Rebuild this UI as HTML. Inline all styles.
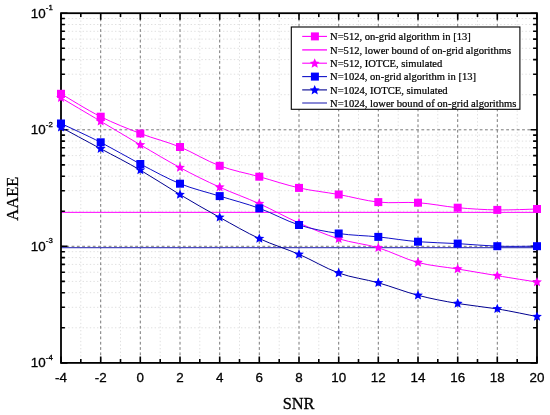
<!DOCTYPE html>
<html><head><meta charset="utf-8"><title>AAEE vs SNR</title>
<style>html,body{margin:0;padding:0;background:#fff}svg{display:block}text{font-family:"Liberation Sans",sans-serif;fill:#000;stroke:#000;stroke-width:.3px}.s{font-family:"Liberation Serif",serif}.l{stroke-width:.22px}</style></head><body>
<svg width="550" height="415" viewBox="0 0 550 415">
<rect width="550" height="415" fill="#fff"/>
<path d="M80.8 13.2V362.9M120.5 13.2V362.9M160.2 13.2V362.9M199.8 13.2V362.9M239.5 13.2V362.9M279.2 13.2V362.9M318.8 13.2V362.9M358.5 13.2V362.9M398.2 13.2V362.9M437.8 13.2V362.9M477.5 13.2V362.9M517.2 13.2V362.9M61.0 94.7H537.0M61.0 74.2H537.0M61.0 59.6H537.0M61.0 48.3H537.0M61.0 39.1H537.0M61.0 31.3H537.0M61.0 24.5H537.0M61.0 18.5H537.0M61.0 211.2H537.0M61.0 190.7H537.0M61.0 176.2H537.0M61.0 164.9H537.0M61.0 155.6H537.0M61.0 147.8H537.0M61.0 141.1H537.0M61.0 135.1H537.0M61.0 327.8H537.0M61.0 307.3H537.0M61.0 292.7H537.0M61.0 281.4H537.0M61.0 272.2H537.0M61.0 264.4H537.0M61.0 257.6H537.0M61.0 251.7H537.0" stroke="#e0e0e0" stroke-width="1" stroke-dasharray="1.4 2.2" fill="none"/>
<path d="M100.7 13.2V362.9M140.3 13.2V362.9M180.0 13.2V362.9M219.7 13.2V362.9M259.3 13.2V362.9M299.0 13.2V362.9M338.7 13.2V362.9M378.3 13.2V362.9M418.0 13.2V362.9M457.7 13.2V362.9M497.3 13.2V362.9M61.0 129.8H537.0M61.0 246.3H537.0" stroke="#787878" stroke-width="1" stroke-dasharray="2.8 2.5" fill="none"/>
<path d="M61.0 212.35H537.0" stroke="#ff00ff" stroke-width="1"/>
<path d="M61.0 247.6H537.0" stroke="#4a4ac0" stroke-width="1.1"/>
<rect x="61.0" y="13.2" width="476.0" height="349.7" fill="none" stroke="#000" stroke-width="1.8"/>
<path d="M61.0 362.9v-6.5M61.0 13.2v6.5M80.8 362.9v-3.8M80.8 13.2v3.8M100.7 362.9v-6.5M100.7 13.2v6.5M120.5 362.9v-3.8M120.5 13.2v3.8M140.3 362.9v-6.5M140.3 13.2v6.5M160.2 362.9v-3.8M160.2 13.2v3.8M180.0 362.9v-6.5M180.0 13.2v6.5M199.8 362.9v-3.8M199.8 13.2v3.8M219.7 362.9v-6.5M219.7 13.2v6.5M239.5 362.9v-3.8M239.5 13.2v3.8M259.3 362.9v-6.5M259.3 13.2v6.5M279.2 362.9v-3.8M279.2 13.2v3.8M299.0 362.9v-6.5M299.0 13.2v6.5M318.8 362.9v-3.8M318.8 13.2v3.8M338.7 362.9v-6.5M338.7 13.2v6.5M358.5 362.9v-3.8M358.5 13.2v3.8M378.3 362.9v-6.5M378.3 13.2v6.5M398.2 362.9v-3.8M398.2 13.2v3.8M418.0 362.9v-6.5M418.0 13.2v6.5M437.8 362.9v-3.8M437.8 13.2v3.8M457.7 362.9v-6.5M457.7 13.2v6.5M477.5 362.9v-3.8M477.5 13.2v3.8M497.3 362.9v-6.5M497.3 13.2v6.5M517.2 362.9v-3.8M517.2 13.2v3.8M537.0 362.9v-6.5M537.0 13.2v6.5M61.0 13.2h6.5M537.0 13.2h-6.5M61.0 129.8h6.5M537.0 129.8h-6.5M61.0 94.7h3.9M537.0 94.7h-3.9M61.0 74.2h3.9M537.0 74.2h-3.9M61.0 59.6h3.9M537.0 59.6h-3.9M61.0 48.3h3.9M537.0 48.3h-3.9M61.0 39.1h3.9M537.0 39.1h-3.9M61.0 31.3h3.9M537.0 31.3h-3.9M61.0 24.5h3.9M537.0 24.5h-3.9M61.0 18.5h3.9M537.0 18.5h-3.9M61.0 246.3h6.5M537.0 246.3h-6.5M61.0 211.2h3.9M537.0 211.2h-3.9M61.0 190.7h3.9M537.0 190.7h-3.9M61.0 176.2h3.9M537.0 176.2h-3.9M61.0 164.9h3.9M537.0 164.9h-3.9M61.0 155.6h3.9M537.0 155.6h-3.9M61.0 147.8h3.9M537.0 147.8h-3.9M61.0 141.1h3.9M537.0 141.1h-3.9M61.0 135.1h3.9M537.0 135.1h-3.9M61.0 362.9h6.5M537.0 362.9h-6.5M61.0 327.8h3.9M537.0 327.8h-3.9M61.0 307.3h3.9M537.0 307.3h-3.9M61.0 292.7h3.9M537.0 292.7h-3.9M61.0 281.4h3.9M537.0 281.4h-3.9M61.0 272.2h3.9M537.0 272.2h-3.9M61.0 264.4h3.9M537.0 264.4h-3.9M61.0 257.6h3.9M537.0 257.6h-3.9M61.0 251.7h3.9M537.0 251.7h-3.9" stroke="#000" stroke-width="1.6" fill="none"/>
<path d="M61.0 93.8C67.6 97.6 87.4 110.1 100.7 116.7C113.9 123.3 127.1 128.4 140.3 133.5C153.6 138.6 166.8 141.6 180.0 147.0C193.2 152.4 206.4 160.9 219.7 165.8C232.9 170.8 246.1 173.0 259.3 176.7C272.6 180.4 285.8 184.9 299.0 187.9C312.2 190.9 325.4 192.1 338.7 194.5C351.9 196.9 365.1 200.7 378.3 202.1C391.6 203.5 404.8 201.8 418.0 202.7C431.2 203.6 444.4 206.5 457.7 207.7C470.9 208.9 484.1 209.7 497.3 209.9C510.6 210.1 530.4 209.2 537.0 209.0" stroke="#ff00ff" stroke-width="1" fill="none"/>
<rect x="57.0" y="89.8" width="8" height="8" fill="#ff00ff"/>
<rect x="96.7" y="112.7" width="8" height="8" fill="#ff00ff"/>
<rect x="136.3" y="129.5" width="8" height="8" fill="#ff00ff"/>
<rect x="176.0" y="143.0" width="8" height="8" fill="#ff00ff"/>
<rect x="215.7" y="161.8" width="8" height="8" fill="#ff00ff"/>
<rect x="255.3" y="172.7" width="8" height="8" fill="#ff00ff"/>
<rect x="295.0" y="183.9" width="8" height="8" fill="#ff00ff"/>
<rect x="334.7" y="190.5" width="8" height="8" fill="#ff00ff"/>
<rect x="374.3" y="198.1" width="8" height="8" fill="#ff00ff"/>
<rect x="414.0" y="198.7" width="8" height="8" fill="#ff00ff"/>
<rect x="453.7" y="203.7" width="8" height="8" fill="#ff00ff"/>
<rect x="493.3" y="205.9" width="8" height="8" fill="#ff00ff"/>
<rect x="533.0" y="205.0" width="8" height="8" fill="#ff00ff"/>
<path d="M61.0 97.8C67.6 101.7 87.4 113.5 100.7 121.3C113.9 129.1 127.1 137.1 140.3 144.8C153.6 152.5 166.8 160.5 180.0 167.6C193.2 174.7 206.4 181.2 219.7 187.2C232.9 193.2 246.1 197.7 259.3 203.7C272.6 209.7 285.8 217.2 299.0 223.0C312.2 228.8 325.4 234.7 338.7 238.8C351.9 242.9 365.1 243.9 378.3 247.8C391.6 251.8 404.8 259.0 418.0 262.5C431.2 266.0 444.4 266.8 457.7 269.0C470.9 271.2 484.1 273.5 497.3 275.7C510.6 277.9 530.4 281.0 537.0 282.1" stroke="#ff00ff" stroke-width="1" fill="none"/>
<polygon points="61.0,92.6 62.4,95.9 65.9,96.2 63.3,98.5 64.1,102.0 61.0,100.2 57.9,102.0 58.7,98.5 56.1,96.2 59.6,95.9" fill="#ff00ff"/>
<polygon points="100.7,116.1 102.1,119.4 105.6,119.7 102.9,122.0 103.7,125.5 100.7,123.7 97.6,125.5 98.4,122.0 95.7,119.7 99.3,119.4" fill="#ff00ff"/>
<polygon points="140.3,139.6 141.7,142.9 145.3,143.2 142.6,145.5 143.4,149.0 140.3,147.2 137.3,149.0 138.1,145.5 135.4,143.2 138.9,142.9" fill="#ff00ff"/>
<polygon points="180.0,162.4 181.4,165.7 184.9,166.0 182.3,168.3 183.1,171.8 180.0,170.0 176.9,171.8 177.7,168.3 175.1,166.0 178.6,165.7" fill="#ff00ff"/>
<polygon points="219.7,182.0 221.1,185.3 224.6,185.6 221.9,187.9 222.7,191.4 219.7,189.6 216.6,191.4 217.4,187.9 214.7,185.6 218.3,185.3" fill="#ff00ff"/>
<polygon points="259.3,198.5 260.7,201.8 264.3,202.1 261.6,204.4 262.4,207.9 259.3,206.1 256.3,207.9 257.1,204.4 254.4,202.1 257.9,201.8" fill="#ff00ff"/>
<polygon points="299.0,217.8 300.4,221.1 303.9,221.4 301.3,223.7 302.1,227.2 299.0,225.4 295.9,227.2 296.7,223.7 294.1,221.4 297.6,221.1" fill="#ff00ff"/>
<polygon points="338.7,233.6 340.1,236.9 343.6,237.2 340.9,239.5 341.7,243.0 338.7,241.2 335.6,243.0 336.4,239.5 333.7,237.2 337.3,236.9" fill="#ff00ff"/>
<polygon points="378.3,242.6 379.7,245.9 383.3,246.2 380.6,248.5 381.4,252.0 378.3,250.2 375.3,252.0 376.1,248.5 373.4,246.2 376.9,245.9" fill="#ff00ff"/>
<polygon points="418.0,257.3 419.4,260.6 422.9,260.9 420.3,263.2 421.1,266.7 418.0,264.9 414.9,266.7 415.7,263.2 413.1,260.9 416.6,260.6" fill="#ff00ff"/>
<polygon points="457.7,263.8 459.1,267.1 462.6,267.4 459.9,269.7 460.7,273.2 457.7,271.4 454.6,273.2 455.4,269.7 452.7,267.4 456.3,267.1" fill="#ff00ff"/>
<polygon points="497.3,270.5 498.7,273.8 502.3,274.1 499.6,276.4 500.4,279.9 497.3,278.1 494.3,279.9 495.1,276.4 492.4,274.1 495.9,273.8" fill="#ff00ff"/>
<polygon points="537.0,276.9 538.4,280.2 541.9,280.5 539.3,282.8 540.1,286.3 537.0,284.5 533.9,286.3 534.7,282.8 532.1,280.5 535.6,280.2" fill="#ff00ff"/>
<path d="M61.0 123.5C67.6 126.6 87.4 135.6 100.7 142.3C113.9 149.1 127.1 157.1 140.3 164.0C153.6 170.9 166.8 178.3 180.0 183.7C193.2 189.0 206.4 192.0 219.7 196.1C232.9 200.2 246.1 203.5 259.3 208.3C272.6 213.1 285.8 220.8 299.0 225.0C312.2 229.2 325.4 231.5 338.7 233.5C351.9 235.5 365.1 235.5 378.3 236.9C391.6 238.3 404.8 240.6 418.0 241.7C431.2 242.8 444.4 242.8 457.7 243.6C470.9 244.3 484.1 245.8 497.3 246.2C510.6 246.6 530.4 246.2 537.0 246.2" stroke="#1010c8" stroke-width="1" fill="none"/>
<rect x="57.0" y="119.5" width="8" height="8" fill="#0000ff"/>
<rect x="96.7" y="138.3" width="8" height="8" fill="#0000ff"/>
<rect x="136.3" y="160.0" width="8" height="8" fill="#0000ff"/>
<rect x="176.0" y="179.7" width="8" height="8" fill="#0000ff"/>
<rect x="215.7" y="192.1" width="8" height="8" fill="#0000ff"/>
<rect x="255.3" y="204.3" width="8" height="8" fill="#0000ff"/>
<rect x="295.0" y="221.0" width="8" height="8" fill="#0000ff"/>
<rect x="334.7" y="229.5" width="8" height="8" fill="#0000ff"/>
<rect x="374.3" y="232.9" width="8" height="8" fill="#0000ff"/>
<rect x="414.0" y="237.7" width="8" height="8" fill="#0000ff"/>
<rect x="453.7" y="239.6" width="8" height="8" fill="#0000ff"/>
<rect x="493.3" y="242.2" width="8" height="8" fill="#0000ff"/>
<rect x="533.0" y="242.2" width="8" height="8" fill="#0000ff"/>
<path d="M61.0 127.3C67.6 130.9 87.4 141.6 100.7 148.7C113.9 155.8 127.1 162.4 140.3 170.1C153.6 177.8 166.8 186.7 180.0 194.6C193.2 202.5 206.4 210.1 219.7 217.4C232.9 224.7 246.1 232.4 259.3 238.6C272.6 244.8 285.8 248.6 299.0 254.3C312.2 260.0 325.4 268.2 338.7 273.0C351.9 277.8 365.1 279.1 378.3 282.8C391.6 286.5 404.8 291.9 418.0 295.3C431.2 298.8 444.4 301.2 457.7 303.5C470.9 305.8 484.1 306.7 497.3 308.9C510.6 311.1 530.4 315.3 537.0 316.6" stroke="#000090" stroke-width="1" fill="none"/>
<polygon points="61.0,122.1 62.4,125.4 65.9,125.7 63.3,128.0 64.1,131.5 61.0,129.7 57.9,131.5 58.7,128.0 56.1,125.7 59.6,125.4" fill="#0000ff"/>
<polygon points="100.7,143.5 102.1,146.8 105.6,147.1 102.9,149.4 103.7,152.9 100.7,151.1 97.6,152.9 98.4,149.4 95.7,147.1 99.3,146.8" fill="#0000ff"/>
<polygon points="140.3,164.9 141.7,168.2 145.3,168.5 142.6,170.8 143.4,174.3 140.3,172.5 137.3,174.3 138.1,170.8 135.4,168.5 138.9,168.2" fill="#0000ff"/>
<polygon points="180.0,189.4 181.4,192.7 184.9,193.0 182.3,195.3 183.1,198.8 180.0,197.0 176.9,198.8 177.7,195.3 175.1,193.0 178.6,192.7" fill="#0000ff"/>
<polygon points="219.7,212.2 221.1,215.5 224.6,215.8 221.9,218.1 222.7,221.6 219.7,219.8 216.6,221.6 217.4,218.1 214.7,215.8 218.3,215.5" fill="#0000ff"/>
<polygon points="259.3,233.4 260.7,236.7 264.3,237.0 261.6,239.3 262.4,242.8 259.3,241.0 256.3,242.8 257.1,239.3 254.4,237.0 257.9,236.7" fill="#0000ff"/>
<polygon points="299.0,249.1 300.4,252.4 303.9,252.7 301.3,255.0 302.1,258.5 299.0,256.7 295.9,258.5 296.7,255.0 294.1,252.7 297.6,252.4" fill="#0000ff"/>
<polygon points="338.7,267.8 340.1,271.1 343.6,271.4 340.9,273.7 341.7,277.2 338.7,275.4 335.6,277.2 336.4,273.7 333.7,271.4 337.3,271.1" fill="#0000ff"/>
<polygon points="378.3,277.6 379.7,280.9 383.3,281.2 380.6,283.5 381.4,287.0 378.3,285.2 375.3,287.0 376.1,283.5 373.4,281.2 376.9,280.9" fill="#0000ff"/>
<polygon points="418.0,290.1 419.4,293.4 422.9,293.7 420.3,296.0 421.1,299.5 418.0,297.7 414.9,299.5 415.7,296.0 413.1,293.7 416.6,293.4" fill="#0000ff"/>
<polygon points="457.7,298.3 459.1,301.6 462.6,301.9 459.9,304.2 460.7,307.7 457.7,305.9 454.6,307.7 455.4,304.2 452.7,301.9 456.3,301.6" fill="#0000ff"/>
<polygon points="497.3,303.7 498.7,307.0 502.3,307.3 499.6,309.6 500.4,313.1 497.3,311.3 494.3,313.1 495.1,309.6 492.4,307.3 495.9,307.0" fill="#0000ff"/>
<polygon points="537.0,311.4 538.4,314.7 541.9,315.0 539.3,317.3 540.1,320.8 537.0,319.0 533.9,320.8 534.7,317.3 532.1,315.0 535.6,314.7" fill="#0000ff"/>
<text x="61.0" y="381.7" font-size="13.4" text-anchor="middle">-4</text>
<text x="100.7" y="381.7" font-size="13.4" text-anchor="middle">-2</text>
<text x="140.3" y="381.7" font-size="13.4" text-anchor="middle">0</text>
<text x="180.0" y="381.7" font-size="13.4" text-anchor="middle">2</text>
<text x="219.7" y="381.7" font-size="13.4" text-anchor="middle">4</text>
<text x="259.3" y="381.7" font-size="13.4" text-anchor="middle">6</text>
<text x="299.0" y="381.7" font-size="13.4" text-anchor="middle">8</text>
<text x="338.7" y="381.7" font-size="13.4" text-anchor="middle">10</text>
<text x="378.3" y="381.7" font-size="13.4" text-anchor="middle">12</text>
<text x="418.0" y="381.7" font-size="13.4" text-anchor="middle">14</text>
<text x="457.7" y="381.7" font-size="13.4" text-anchor="middle">16</text>
<text x="497.3" y="381.7" font-size="13.4" text-anchor="middle">18</text>
<text x="537.0" y="381.7" font-size="13.4" text-anchor="middle">20</text>
<text x="45.6" y="17.6" font-size="13.4" text-anchor="end">10</text>
<text x="45.8" y="10.1" font-size="7.8">-1</text>
<text x="45.6" y="134.2" font-size="13.4" text-anchor="end">10</text>
<text x="45.8" y="126.7" font-size="7.8">-2</text>
<text x="45.6" y="250.7" font-size="13.4" text-anchor="end">10</text>
<text x="45.8" y="243.2" font-size="7.8">-3</text>
<text x="45.6" y="367.3" font-size="13.4" text-anchor="end">10</text>
<text x="45.8" y="359.8" font-size="7.8">-4</text>
<text class="s" x="298.6" y="409" font-size="16.4" text-anchor="middle">SNR</text>
<text class="s" transform="translate(18 198.6) rotate(-90)" font-size="16.55" text-anchor="middle">AAEE</text>
<rect x="291.3" y="27" width="228.6" height="82.3" fill="#fff" stroke="#000" stroke-width="1.1"/>
<path d="M302.2 36.4H327" stroke="#ff00ff" stroke-width="1.1"/>
<rect x="310.9" y="32.4" width="8" height="8" fill="#ff00ff"/>
<text class="s l" x="330" y="40.1" font-size="10.58">N=512, on-grid algorithm in [13]</text>
<path d="M302.2 49.9H327" stroke="#ff00ff" stroke-width="1.3"/>
<text class="s l" x="330" y="53.6" font-size="10.58">N=512, lower bound of on-grid algorithms</text>
<path d="M302.2 63.2H327" stroke="#ff00ff" stroke-width="1.1"/>
<polygon points="314.7,58.3 316.1,61.6 319.6,61.9 317.0,64.2 317.8,67.7 314.7,65.9 311.6,67.7 312.4,64.2 309.8,61.9 313.3,61.6" fill="#ff00ff"/>
<text class="s l" x="330" y="66.9" font-size="10.58">N=512, IOTCE, simulated</text>
<path d="M302.2 76.6H327" stroke="#1010c8" stroke-width="1.1"/>
<rect x="310.9" y="72.6" width="8" height="8" fill="#0000ff"/>
<text class="s l" x="330" y="80.3" font-size="10.58">N=1024, on-grid algorithm in [13]</text>
<path d="M302.2 89.9H327" stroke="#000090" stroke-width="1.1"/>
<polygon points="314.7,85.0 316.1,88.3 319.6,88.6 317.0,90.9 317.8,94.4 314.7,92.6 311.6,94.4 312.4,90.9 309.8,88.6 313.3,88.3" fill="#0000ff"/>
<text class="s l" x="330" y="93.6" font-size="10.58">N=1024, IOTCE, simulated</text>
<path d="M302.2 103.0H327" stroke="#4a4ac0" stroke-width="1.3"/>
<text class="s l" x="330" y="106.7" font-size="10.58">N=1024, lower bound of on-grid algorithms</text>
</svg></body></html>
